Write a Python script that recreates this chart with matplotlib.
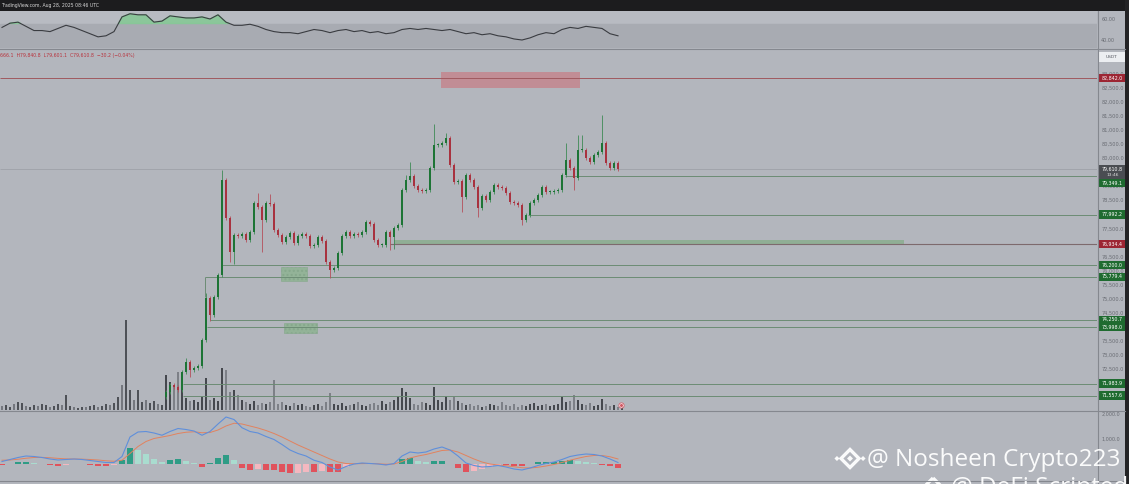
import numpy as np
import matplotlib.pyplot as plt
import matplotlib.transforms as mtrans
from matplotlib.patches import Rectangle, Polygon

# ---- data ----
# closes of the visible candles (bar 41 onward), one per bar
closes = [71693, 71942, 71871, 71764, 72404, 72759, 72475, 72546, 72617, 73541,
          75034, 74430, 75069, 75851, 79229, 77878, 76669, 77273, 77238, 77309,
          77096, 77380, 78411, 78269, 77807, 78411, 78376, 77451, 77273, 77024,
          77202, 77344, 76989, 77238, 77309, 77238, 76882, 76918, 77202, 77060,
          76313, 76029, 76100, 76633, 77238, 77380, 77238, 77309, 77273, 77380,
          77736, 77665, 77096, 76918, 76918, 77380, 77202, 77522,
          77629, 78873, 79229, 79371, 79015, 78873, 78838, 78873, 79655, 80473,
          80473, 80544, 80722, 79762, 79157, 79193, 78624, 79406, 79229, 78980,
          78233, 78660, 78518, 78802, 79051, 78980, 78944, 78766, 78447, 78411,
          78340, 77807, 77985, 78411, 78518, 78695, 78980, 78802, 78802, 78838,
          78873, 79406, 79940, 79655, 79300, 80295, 80295, 80011, 79868, 80117,
          80224, 80544, 79833, 79655, 79833, 79610]
first_open = 71500
first_bar = 41
# notable wick extremes (candle number -> price)
highs = {5: 72900, 10: 75200, 14: 79584, 15: 79300, 23: 78766, 26: 78730,
         60: 79400, 61: 79868, 67: 81220, 70: 80900, 100: 80544, 103: 80828,
         104: 80828, 109: 81540}
lows = {6: 72200, 11: 74200, 16: 76313, 17: 76240, 24: 76669, 41: 75744,
        56: 76740, 57: 76760, 74: 78093, 78: 77914, 89: 77629, 102: 78873}

volume = [4, 5, 3, 6, 8, 7, 4, 3, 5, 4, 6, 5, 3, 4, 6, 5,
          15,
          4, 3, 2, 3, 3, 4, 5, 3, 4, 6, 5, 7,
          13, 25, 90, 20, 10, 20, 8,
          10, 7, 9, 6, 5,
          35, 28, 25, 38, 30, 12, 9, 10, 8, 13, 32, 10, 12, 9, 42, 40, 18, 20, 15, 10,
          8, 6, 9, 5, 7, 6, 8,
          30,
          6, 8, 5, 4, 7, 5, 6, 4, 3, 5, 6, 4,
          8, 17,
          6, 5, 7, 4, 5, 6, 8, 5, 4, 6, 7, 5, 9, 6, 8,
          10, 14, 22, 18, 12,
          6, 5, 8, 7, 5,
          23, 10, 8, 14, 10, 13, 9,
          7, 5, 6, 4, 5, 3, 4, 6, 5, 4, 8, 5, 4, 6, 3, 5, 4, 6, 7, 4, 5, 6, 4, 5,
          6, 13, 8, 9, 15, 10,
          6, 5, 7, 4, 5,
          11, 6,
          4, 5, 3, 4]

# indicators sampled every second bar
rsi = [52, 56, 57, 53, 49, 49, 48, 51, 54, 52,
       49, 46, 43, 44, 48, 62, 65, 64, 64, 57,
       58, 63, 62, 61, 61, 62, 60, 64, 57, 54,
       54, 55, 53, 50, 48, 47, 47, 46, 48, 50,
       49, 47, 49, 50, 48, 49, 47, 48, 46, 47,
       50, 51, 50, 51, 50, 49, 50, 48, 46, 47,
       45, 46, 44, 43, 41, 40, 42, 45, 47, 46,
       50, 52, 51, 53, 52, 51, 46, 44]
macd = [100, 180, 260, 320, 300, 260, 200, 160, 180, 200,
        180, 140, 100, 60, 60, 300, 1080, 1280, 1300, 1240,
        1150, 1300, 1420, 1380, 1320, 1150, 1300, 1600, 1880, 1780,
        1450, 1300, 1240, 1100, 980, 780, 560, 420, 320, 150,
        60, -120, -240, -100, 0, 40, 20, 0, -40, 20,
        320, 480, 440, 480, 600, 680, 560, 320, 40, -60,
        -120, -100, -60, -120, -200, -240, -160, -60, 20, 80,
        180, 300, 360, 400, 380, 320, 200, 60]
signal = [150, 160, 190, 230, 260, 265, 250, 225, 205, 200,
          195, 180, 160, 130, 110, 150, 420, 700, 900, 1020,
          1080, 1140, 1220, 1270, 1290, 1250, 1260, 1360, 1520, 1630,
          1600, 1520, 1440, 1340, 1220, 1080, 920, 760, 620, 480,
          340, 200, 80, 20, 10, 15, 20, 10, -10, 0,
          100, 240, 320, 380, 460, 540, 560, 480, 340, 200,
          80, 0, -40, -70, -110, -150, -160, -130, -80, -20,
          60, 150, 230, 300, 340, 340, 290, 200]

# horizontal levels drawn on the chart
level_price = [82842.0, 79610.8, 79349.1, 77992.2, 76934.4, 76200.0, 75779.4,
               74250.7, 73998.0, 71983.9, 71557.6]
level_start = [-0.5, -0.5, 140.75, 131.5, 97, 54.75, 50.75, 52, 51.25, 45.25, 45.25]
level_kind = ['red', 'last', 'green', 'green', 'red', 'green', 'green',
              'green', 'green', 'green', 'green']

ohlc_text = "666.1  H79,840.8  L79,601.1  C79,610.8  \u221230.2 (\u22120.04%)"
header = "TradingView.com, Aug 28, 2025 08:46 UTC"

# ---- look ----
BG = '#b3b6bd'
SEP = '#85888f'
UP = '#1d7435'
DN = '#a8323f'
TAG_GREEN = '#1f6b30'
TAG_RED = '#9c2533'
LEVEL_GREEN = '#6c8c74'

W, H = 1129, 484
YTOP, YBOT = 83876, 71043


def box(x0, y0, x1, y1):
    return [x0 / W, 1 - y1 / H, (x1 - x0) / W, (y1 - y0) / H]


fig = plt.figure(figsize=(W / 100, H / 100), dpi=100)
fig.patch.set_facecolor(BG)

ax_rsi = fig.add_axes(box(0, 11, 1097, 48))
ax_vol = fig.add_axes(box(0, 49, 1097, 410))
ax = fig.add_axes(box(0, 49, 1097, 410))
ax_macd = fig.add_axes(box(0, 411, 1097, 480))
XL = (-0.5, 273.75)

for a in (ax_rsi, ax_vol, ax, ax_macd):
    a.set_xlim(*XL)
    a.set_xticks([])
    for s in a.spines.values():
        s.set_visible(False)
ax.patch.set_visible(False)
ax_vol.set_facecolor(BG)
ax_vol.set_yticks([])

# ---- volume ----
vol = np.array(volume, dtype=float)
vidx = np.arange(len(vol))
vcol = []
for i in vidx:
    k = i - first_bar
    if 0 <= k < len(closes):
        o = first_open if k == 0 else closes[k - 1]
        vcol.append('#45484e' if closes[k] >= o else '#7d8087')
    else:
        vcol.append('#4e5157' if i % 3 else '#74777e')
ax_vol.bar(vidx, vol, width=0.6, color=vcol, linewidth=0)
ax_vol.set_ylim(0, vol.max() * 4.0)

# ---- candles ----
c = np.array(closes, dtype=float)
o = np.concatenate([[first_open], c[:-1]])
cidx = np.arange(len(c)) + first_bar
top = np.maximum(o, c)
bot = np.minimum(o, c)
hi = np.array([highs.get(k, top[k] + 70) for k in range(len(c))])
lo = np.array([lows.get(k, bot[k] - 70) for k in range(len(c))])
col = np.where(c >= o, UP, DN)
wcol = np.where(c >= o, '#3f8a55', '#b5505c')
ax.vlines(cidx, lo, hi, colors=wcol, linewidth=0.6, zorder=4)
ax.bar(cidx, np.maximum(top - bot, 25), bottom=bot, width=0.7, color=col,
       linewidth=0, zorder=5)
ax.set_ylim(YBOT, YTOP)

# ---- zones ----
ax.add_patch(Rectangle((109.75, 82490), 34.75, 568, fc='#c4868f', ec='none',
                       alpha=0.85, zorder=2))
ax.add_patch(Rectangle((98, 76908), 127.5, 178, fc='#8fae93', ec='none',
                       alpha=0.95, zorder=2))
ax.add_patch(Rectangle((69.75, 75628), 6.5, 498, fc='#93b398', ec='#86a88c',
                       lw=0.4, hatch='....', zorder=2))
ax.add_patch(Rectangle((70.5, 73780), 8.25, 356, fc='#93b398', ec='#86a88c',
                       lw=0.4, hatch='....', zorder=2))

# ---- levels ----
for p, x0, kind in zip(level_price, level_start, level_kind):
    if kind == 'red':
        lc, lw = ('#a05a60', 0.7) if x0 < 0 else ('#7d6a6d', 0.8)
    elif kind == 'last':
        lc, lw = '#9a9da4', 0.5
    else:
        lc, lw = LEVEL_GREEN, 0.7
    ax.hlines(p, x0, XL[1], colors=lc, linewidth=lw, zorder=3)
ax.vlines(50.75, 75060, 75779.4, colors=LEVEL_GREEN, linewidth=0.7, zorder=3)
ax.vlines(52, 74527, 74250.7, colors=LEVEL_GREEN, linewidth=0.7, zorder=3)

# ---- right price scale ----
ax.yaxis.tick_right()
ticks = np.arange(72500, 83001, 500)
ax.set_yticks(ticks)
ax.set_yticklabels([f"{t:,.1f}" for t in ticks])
ax.tick_params(axis='y', length=0, pad=3, labelsize=3.6, labelcolor='#686b72')

tf = mtrans.blended_transform_factory(ax.transAxes, ax.transData)
TAG_H = 290
tag_shift = {2: -236}
for n, (p, kind) in enumerate(zip(level_price, level_kind)):
    yc = p + tag_shift.get(n, 0)
    if kind == 'last':
        ax.add_patch(Rectangle((1.0009, p - 355), 0.0265, 495, transform=tf,
                               fc='#4a4d52', ec='none', clip_on=False, zorder=10))
        ax.text(1.0142, p, f"{p:,.1f}", transform=tf, ha='center', va='center',
                fontsize=3.4, color='white', clip_on=False, zorder=11)
        ax.text(1.0142, p - 230, "13:46", transform=tf, ha='center', va='center',
                fontsize=3.2, color='#e0e0e0', clip_on=False, zorder=11)
        continue
    fc = TAG_RED if kind == 'red' else TAG_GREEN
    ax.add_patch(Rectangle((1.0009, yc - TAG_H / 2), 0.0265, TAG_H, transform=tf,
                           fc=fc, ec='none', clip_on=False, zorder=10))
    ax.text(1.0142, yc, f"{p:,.1f}", transform=tf, ha='center', va='center',
            fontsize=3.4, color='white', clip_on=False, zorder=11)

# ---- RSI ----
ridx = np.arange(len(rsi)) * 2
r = np.array(rsi, dtype=float)
RSI_TOP = 55.7
ax_rsi.set_facecolor('#b8bbc2')
ax_rsi.set_ylim(60 - 29 / 1.05, 60 + 8 / 1.05)
ax_rsi.axhspan(32, RSI_TOP, color='#a8abb2', zorder=0)
ax_rsi.fill_between(ridx, RSI_TOP, r, where=r > RSI_TOP, interpolate=True,
                    color='#86c896', alpha=0.9, zorder=1)
ax_rsi.plot(ridx, r, color='#3a3c41', lw=0.8, zorder=2)
ax_rsi.yaxis.tick_right()
ax_rsi.set_yticks([60, 40])
ax_rsi.set_yticklabels(['60.00', '40.00'])
ax_rsi.tick_params(axis='y', length=0, pad=3, labelsize=3.5, labelcolor='#686b72')

# ---- MACD ----
midx = np.arange(len(macd)) * 2
m = np.array(macd, dtype=float)
s = np.array(signal, dtype=float)
hist = m - s
hcol = []
for j, hv in enumerate(hist):
    prev = hist[j - 1] if j else hv
    if hv >= 0:
        hcol.append('#2f9c86' if hv >= prev else '#a9dccf')
    else:
        hcol.append('#e0525c' if hv <= prev else '#f4b8c0')
ax_macd.set_facecolor(BG)
ax_macd.bar(midx, hist, width=1.3, color=hcol, linewidth=0, zorder=1)
ax_macd.plot(midx, m, color='#5f8fdb', lw=0.8, zorder=3)
ax_macd.plot(midx, s, color='#e2825e', lw=0.7, zorder=2)
ax_macd.set_ylim(-640, 2120)
ax_macd.yaxis.tick_right()
ax_macd.set_yticks([2000, 1000])
ax_macd.set_yticklabels(['2,000.0', '1,000.0'])
ax_macd.tick_params(axis='y', length=0, pad=3, labelsize=3.5, labelcolor='#686b72')

# ---- overlay: frame, header, watermark ----
ov = fig.add_axes([0, 0, 1, 1], zorder=20)
ov.set_xlim(0, W)
ov.set_ylim(H, 0)
ov.axis('off')
ov.patch.set_alpha(0)

ov.add_patch(Rectangle((0, 0), W, 11, fc='#1c1c1e', ec='none'))
ov.text(1, 5.5, header, fontsize=3.3, color='#d8d8d8', va='center', ha='left')
ov.text(0, 55, ohlc_text, fontsize=3.3, color='#b8323c', va='center', ha='left')
for y in (48.5, 410.5, 480.5):
    ov.plot([0, 1125], [y, y], color=SEP, lw=0.8)
ov.plot([1097.5, 1097.5], [11, 484], color=SEP, lw=0.8)
ov.add_patch(Rectangle((1125, 0), 4, H, fc='#232325', ec='none'))
ov.add_patch(Rectangle((1098.5, 52), 26, 9.5, fc='#eceef1', ec='none'))
ov.text(1111.5, 56.8, "USDT", fontsize=3.2, color='#555860', ha='center', va='center')
ov.scatter([621], [405], s=14, facecolor='white', edgecolor='#d05a66', lw=0.6)
ov.scatter([621], [405], s=1.5, color='#d05a66')


def binance_logo(cx, cy, r):
    ov.add_patch(Polygon([(cx, cy - r), (cx + r, cy), (cx, cy + r), (cx - r, cy)],
                         closed=True, fill=False, ec='white', lw=2.4, alpha=0.95))
    d = r * 0.33
    ov.add_patch(Polygon([(cx, cy - d), (cx + d, cy), (cx, cy + d), (cx - d, cy)],
                         closed=True, fc='white', ec='none', alpha=0.95))
    e = r * 0.28
    for sx in (-1, 1):
        px = cx + sx * r * 1.45
        ov.add_patch(Polygon([(px, cy - e), (px + e, cy), (px, cy + e), (px - e, cy)],
                             closed=True, fc='white', ec='none', alpha=0.95))


binance_logo(850, 458.5, 9)
ov.text(867, 466, "@ Nosheen Crypto223", fontsize=17.5, family='Open Sans',
        color='white', alpha=0.95, ha='left', va='baseline')
binance_logo(933, 487, 9)
ov.text(951, 494, "@ DeFi Scripted", fontsize=17.5, family='Open Sans',
        color='white', alpha=0.95, ha='left', va='baseline')

fig.savefig("out.png", dpi=100, facecolor=fig.get_facecolor())
